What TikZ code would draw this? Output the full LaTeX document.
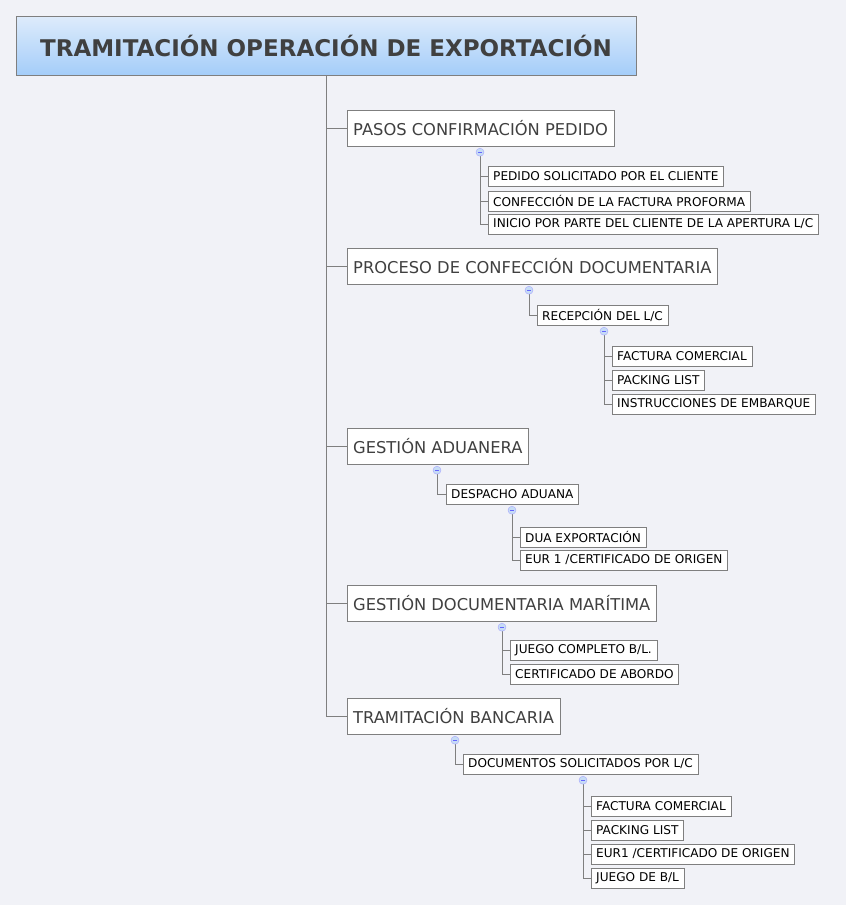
\documentclass[tikz,border=0pt]{standalone}
\usepackage{fontspec}
\setmainfont{DejaVu Sans}
\usetikzlibrary{positioning}
\definecolor{bgpage}{HTML}{F1F2F7}
\definecolor{boxline}{HTML}{7F7F7F}
\definecolor{textgray}{HTML}{404040}
\definecolor{topblue}{HTML}{DDEBFB}
\definecolor{lowblue}{HTML}{A4CDF9}
\definecolor{dotblue}{HTML}{C6DCF5}
\tikzset{x=1pt, y=-1pt,
  title/.style={draw=boxline, top color=topblue, bottom color=lowblue, minimum width=620pt, minimum height=59pt,
    font=\fontsize{23}{26}\selectfont\bfseries, text=textgray},
  topic/.style={draw=boxline, fill=white, anchor=west, minimum height=36pt, inner xsep=6pt,
    font=\fontsize{16.3}{19}\selectfont, text=textgray},
  sub/.style={draw=boxline, fill=white, anchor=west, minimum height=20pt, inner xsep=5pt,
    font=\fontsize{12.1}{14}\selectfont, text=black},
  link/.style={draw=boxline, line width=0.8pt},
  fold/.style={circle, draw=blue!35, fill=dotblue, inner sep=0pt, minimum size=8pt,
    path picture={\draw[blue!60, line width=0.6pt] ([xshift=-2pt]path picture bounding box.center) -- ([xshift=2pt]path picture bounding box.center);}},
}

\begin{document}
\begin{tikzpicture}
    \fill[bgpage] (0,0) rectangle (846,905);
    \useasboundingbox (0,0) rectangle (846,905);
    \node[title] (root) at (326,46) {TRAMITACIÓN OPERACIÓN DE EXPORTACIÓN};
    % first level
    \node[topic] (pasos) at (347,128) {PASOS CONFIRMACIÓN PEDIDO};
    \node[topic] (proceso) at (347,266) {PROCESO DE CONFECCIÓN DOCUMENTARIA};
    \node[topic] (aduana) at (347,446) {GESTIÓN ADUANERA};
    \node[topic] (maritima) at (347,603) {GESTIÓN DOCUMENTARIA MARÍTIMA};
    \node[topic] (banco) at (347,716) {TRAMITACIÓN BANCARIA};
    \draw[link] (root.south) -- (326,716);
    \foreach \t in {pasos,proceso,aduana,maritima,banco}
        \draw[link] (326,0 |- \t.west) -- (\t.west);
    % second level
    \node[sub] (pedido) at (488,176) {PEDIDO SOLICITADO POR EL CLIENTE};
    \node[sub] (proforma) at (488,201) {CONFECCIÓN DE LA FACTURA PROFORMA};
    \node[sub] (inicio) at (488,224) {INICIO POR PARTE DEL CLIENTE DE LA APERTURA L/C};
    \node[sub] (recep) at (537,315) {RECEPCIÓN DEL L/C};
    \node[sub] (fact1) at (612,356) {FACTURA COMERCIAL};
    \node[sub] (pack1) at (612,380) {PACKING LIST};
    \node[sub] (instr) at (612,404) {INSTRUCCIONES DE EMBARQUE};
    \node[sub] (despacho) at (446,494) {DESPACHO ADUANA};
    \node[sub] (dua) at (520,537) {DUA EXPORTACIÓN};
    \node[sub] (eur1) at (520,560) {EUR 1 /CERTIFICADO DE ORIGEN};
    \node[sub] (juego1) at (510,650) {JUEGO COMPLETO B/L.};
    \node[sub] (abordo) at (510,674) {CERTIFICADO DE ABORDO};
    \node[sub] (docs) at (463,764) {DOCUMENTOS SOLICITADOS POR L/C};
    \node[sub] (fact2) at (591,806) {FACTURA COMERCIAL};
    \node[sub] (pack2) at (591,830) {PACKING LIST};
    \node[sub] (eur2) at (591,854) {EUR1 /CERTIFICADO DE ORIGEN};
    \node[sub] (juego2) at (591,878) {JUEGO DE B/L};
    % fold markers and branches
    \foreach \p/\x/\kids in {pasos/480/{pedido,proforma,inicio}, proceso/529/{recep},
        recep/604/{fact1,pack1,instr}, aduana/437/{despacho}, despacho/512/{dua,eur1},
        maritima/502/{juego1,abordo}, banco/455/{docs}, docs/583/{fact2,pack2,eur2,juego2}}{
        \coordinate (f-\p) at (\x,0 |- \p.south);
        \foreach \k in \kids
            \draw[link, line width=0.6pt] ([yshift=-6pt]f-\p) |- (\k.west);
        \node[fold] at ([yshift=-6pt]f-\p) {};
    }
\end{tikzpicture}
\end{document}
